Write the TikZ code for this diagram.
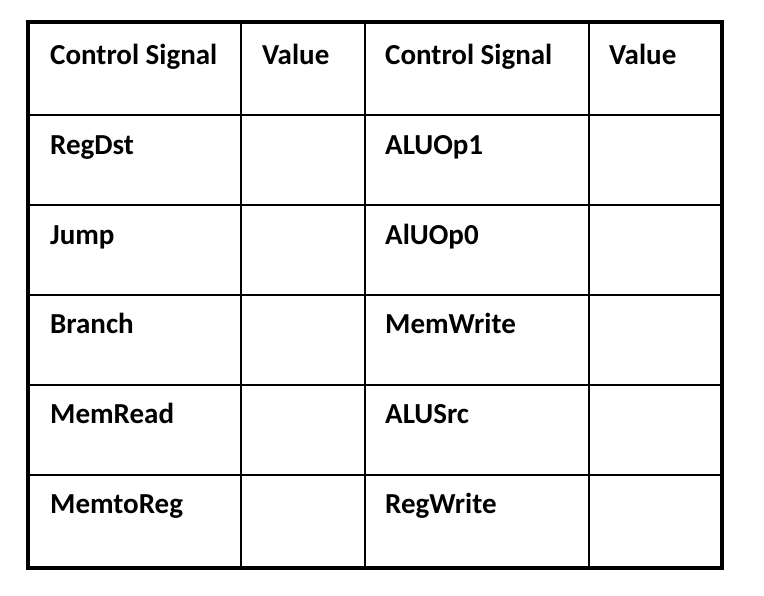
\documentclass[tikz,border=0pt]{standalone}
\usepackage{fontspec}
\setmainfont{Carlito}
\begin{document}
\begin{tikzpicture}[x=1pt,y=-1pt,
 lbl/.style={anchor=base west,inner sep=0pt,font=\fontsize{29}{32}\selectfont\bfseries}]
\useasboundingbox (0,0) rectangle (764,596);
\foreach \x in {241,365,589} \draw[line width=1.5pt] (\x,22) -- (\x,568);
\foreach \y in {115,205,295,385,475} \draw[line width=1.5pt] (28,\y) -- (722,\y);
\draw[line width=4pt] (28,22) rectangle (722,568);
\node[lbl] (h1) at (50,65) {Control Signal};
\node[lbl] (h2) at (262,65) {Value};
\node[lbl] (h3) at (385,65) {Control Signal};
\node[lbl] (h4) at (609,65) {Value};
\node[lbl] (a1) at (50,155) {RegDst};
\node[lbl] (a2) at (50,245) {Jump};
\node[lbl] (a3) at (50,334) {Branch};
\node[lbl] (a4) at (50,424) {MemRead};
\node[lbl] (a5) at (50,513) {MemtoReg};
\node[lbl] (b1) at (385,155) {ALUOp1};
\node[lbl] (b2) at (385,245) {AlUOp0};
\node[lbl] (b3) at (385,334) {MemWrite};
\node[lbl] (b4) at (385,424) {ALUSrc};
\node[lbl] (b5) at (385,513) {RegWrite};
\end{tikzpicture}
\end{document}
